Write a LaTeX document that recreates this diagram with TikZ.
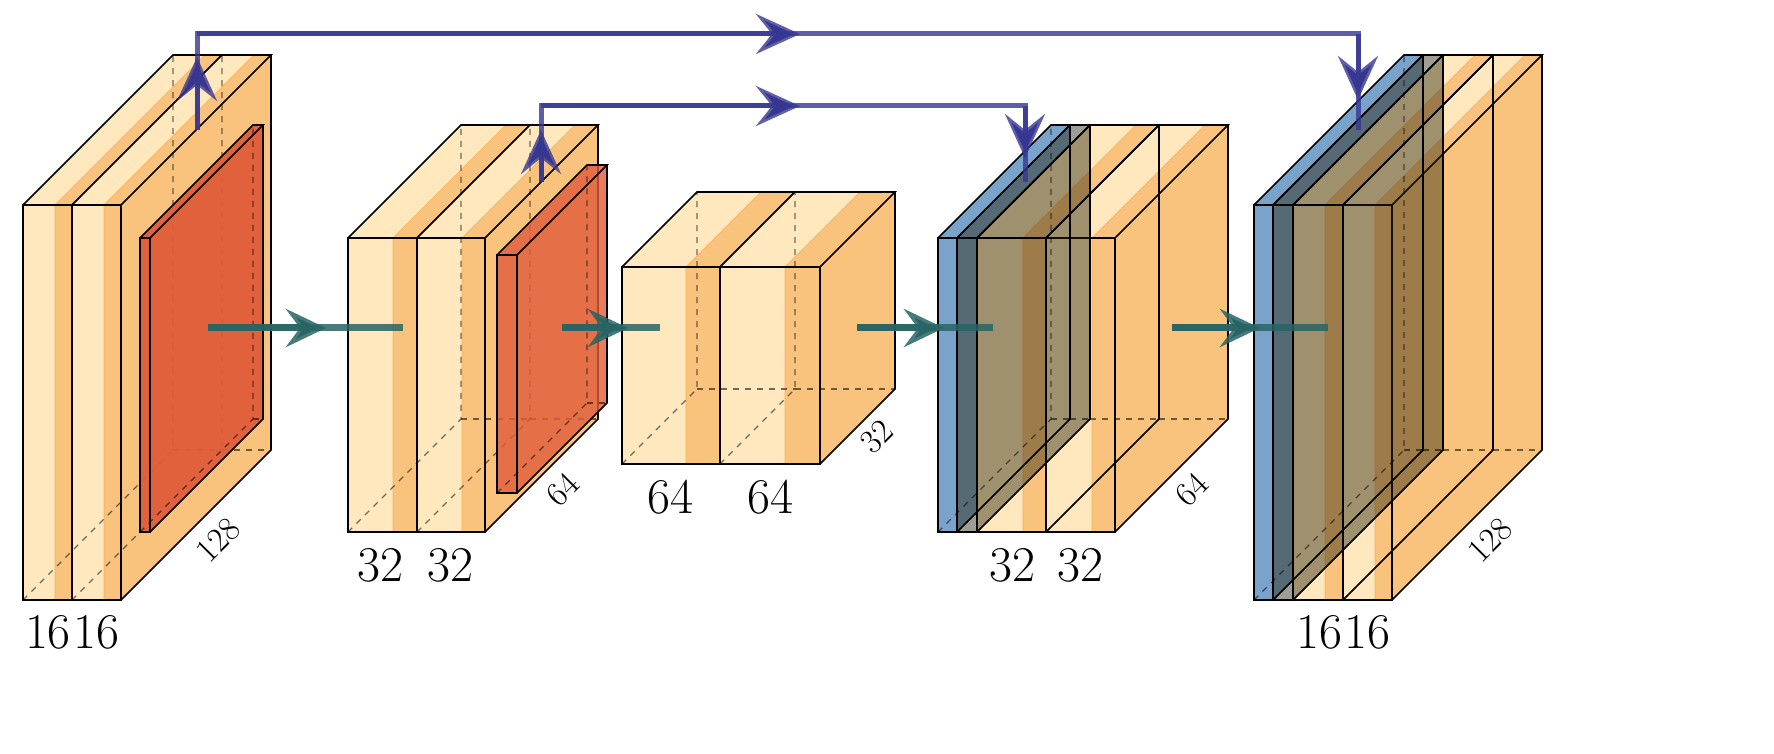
\documentclass[tikz,border=0pt]{standalone}
\usetikzlibrary{arrows.meta}
\definecolor{lite}{RGB}{255,232,190}
\definecolor{band}{RGB}{250,195,125}
\definecolor{redp}{RGB}{224,92,58}
\definecolor{bluu}{RGB}{122,163,204}
\definecolor{slat}{RGB}{39,34,8}
\definecolor{tealc}{RGB}{40,100,100}
\definecolor{skipc}{RGB}{55,55,145}
\tikzset{
  conn/.style={draw=tealc,draw opacity=0.85,line width=3.5pt},
  connhead/.style={conn,-{Stealth[length=20pt,width=19pt,inset=7pt]}},
  skip/.style={draw=skipc,draw opacity=0.8,line width=2.5pt},
  skiphead/.style={skip,-{Stealth[length=22pt,width=20pt,inset=8pt]}},
  hid/.style={draw=black,draw opacity=0.55,dashed,line width=0.6pt},
  edge/.style={draw=black,line width=0.8pt},
  lbl/.style={font=\fontsize{25}{28}\selectfont,inner sep=0pt},
  dlbl/.style={font=\fontsize{17}{19}\selectfont,inner sep=0pt,rotate=45}
}
% cube fill: x0 x1 yt yb d colour
\newcommand{\cfill}[6]{%
  \fill[#6] (#1,#3) rectangle (#2,#4);
  \fill[#6] (#1,#3) -- (#1+#5,#3-#5) -- (#2+#5,#3-#5) -- (#2,#3) -- cycle;
  \fill[#6] (#2,#3) -- (#2+#5,#3-#5) -- (#2+#5,#4-#5) -- (#2,#4) -- cycle;}
% outline: x0 x1 yt yb d
\newcommand{\cedge}[5]{%
  \draw[edge] (#1,#3) rectangle (#2,#4);
  \draw[edge] (#1,#3) -- (#1+#5,#3-#5) -- (#2+#5,#3-#5) -- (#2,#3);
  \draw[edge] (#2+#5,#3-#5) -- (#2+#5,#4-#5) -- (#2,#4);}
% hidden: x0 x1 yt yb d
\newcommand{\chid}[5]{%
  \draw[hid] (#1,#4) -- (#1+#5,#4-#5) -- (#1+#5,#3-#5);
  \draw[hid] (#1+#5,#4-#5) -- (#2+#5,#4-#5);}
% layer: x0 xs x1 yt yb d
\newcommand{\clayer}[6]{%
  \cfill{#1}{#2}{#4}{#5}{#6}{lite}
  \cfill{#2}{#3}{#4}{#5}{#6}{band}
  \draw[band!80!orange,line width=0.5pt] (#2,#5) -- (#2,#4) -- (#2+#6,#4-#6);
  \cedge{#1}{#3}{#4}{#5}{#6}}
\begin{document}
\begin{tikzpicture}[x=0.5pt,y=-0.5pt]
\useasboundingbox (0,0) rectangle (1774,754);
% block 1
\clayer{23}{55}{72}{205}{600}{150}
\clayer{72}{104}{121}{205}{600}{150}
\chid{23}{72}{205}{600}{150}
\chid{72}{121}{205}{600}{150}
\begin{scope}[fill opacity=0.95]\cfill{140}{150}{238}{532}{113}{redp}\end{scope}
\cedge{140}{150}{238}{532}{113}
\chid{140}{150}{238}{532}{113}
% block 2
\clayer{348}{393}{417}{238}{532}{113}
\clayer{417}{462}{485}{238}{532}{113}
\chid{348}{417}{238}{532}{113}
\chid{417}{485}{238}{532}{113}
\begin{scope}[fill opacity=0.8]\cfill{497}{517}{255}{493}{90}{redp}\end{scope}
\cedge{497}{517}{255}{493}{90}
\chid{497}{517}{255}{493}{90}
% block 3
\clayer{622}{686}{720}{267}{464}{75}
\clayer{720}{785}{820}{267}{464}{75}
\chid{622}{720}{267}{464}{75}
\chid{720}{820}{267}{464}{75}
% block 4
\cfill{938}{957}{238}{532}{113}{bluu}
\clayer{977}{1023}{1046}{238}{532}{113}
\clayer{1046}{1092}{1115}{238}{532}{113}
\begin{scope}[fill opacity=0.44]\cfill{957}{977}{238}{532}{113}{slat}\end{scope}
\cedge{938}{957}{238}{532}{113}
\cedge{957}{977}{238}{532}{113}
\cedge{977}{1046}{238}{532}{113}
\chid{938}{957}{238}{532}{113}
\chid{957}{977}{238}{532}{113}
\chid{977}{1046}{238}{532}{113}
\chid{1046}{1115}{238}{532}{113}
% block 5
\cfill{1254}{1273}{205}{600}{150}{bluu}
\clayer{1293}{1325}{1343}{205}{600}{150}
\clayer{1343}{1375}{1392}{205}{600}{150}
\begin{scope}[fill opacity=0.44]\cfill{1273}{1293}{205}{600}{150}{slat}\end{scope}
\cedge{1254}{1273}{205}{600}{150}
\cedge{1273}{1293}{205}{600}{150}
\cedge{1293}{1343}{205}{600}{150}
\chid{1254}{1273}{205}{600}{150}
\chid{1273}{1293}{205}{600}{150}
\chid{1293}{1343}{205}{600}{150}
\chid{1343}{1392}{205}{600}{150}
% labels
\node[lbl] (l1a) at (48,632) {16};
\node[lbl] (l1b) at (96,632) {16};
\node[dlbl] (d1) at (218,540) {128};
\node[lbl] (l2a) at (380,565) {32};
\node[lbl] (l2b) at (450,565) {32};
\node[dlbl] (d2) at (563,490) {64};
\node[lbl] (l3a) at (670,497) {64};
\node[lbl] (l3b) at (770,497) {64};
\node[dlbl] (d3) at (877,437) {32};
\node[lbl] (l4a) at (1012,565) {32};
\node[lbl] (l4b) at (1080,565) {32};
\node[dlbl] (d4) at (1192,490) {64};
\node[dlbl] (d5) at (1490,540) {128};
\node[lbl] (l5a) at (1319,632) {16};
\node[lbl] (l5b) at (1367,632) {16};
% connections
\coordinate (a1s) at (208,328); \coordinate (a1m) at (326,328); \coordinate (a1e) at (403,328);
\coordinate (a2s) at (562,328); \coordinate (a2m) at (628,328); \coordinate (a2e) at (660,328);
\coordinate (a3s) at (857,328); \coordinate (a3m) at (944,328); \coordinate (a3e) at (993,328);
\coordinate (a4s) at (1172,328); \coordinate (a4m) at (1260,328); \coordinate (a4e) at (1328,328);
\foreach \s/\m/\e in {a1s/a1m/a1e,a2s/a2m/a2e,a3s/a3m/a3e,a4s/a4m/a4e}{
  \draw[conn] (\s) -- (\e);
  \draw[connhead] (\s) -- (\m);}
% skips
\coordinate (s1a) at (197,130); \coordinate (s1b) at (197,34); \coordinate (s1c) at (1358,34); \coordinate (s1d) at (1358,130);
\coordinate (s1u) at (197,57); \coordinate (s1r) at (800,34); \coordinate (s1w) at (1358,100);
\draw[skip] (s1a) -- (s1b) -- (s1c) -- (s1d);
\draw[skiphead] (s1a) -- (s1u);
\draw[skiphead] (s1b) -- (s1r);
\draw[skiphead] (s1c) -- (s1w);
\coordinate (s2a) at (541,182); \coordinate (s2b) at (541,106); \coordinate (s2c) at (1025,106); \coordinate (s2d) at (1025,182);
\coordinate (s2u) at (541,130); \coordinate (s2r) at (800,106); \coordinate (s2w) at (1025,158);
\draw[skip] (s2a) -- (s2b) -- (s2c) -- (s2d);
\draw[skiphead] (s2a) -- (s2u);
\draw[skiphead] (s2b) -- (s2r);
\draw[skiphead] (s2c) -- (s2w);
\end{tikzpicture}
\end{document}
